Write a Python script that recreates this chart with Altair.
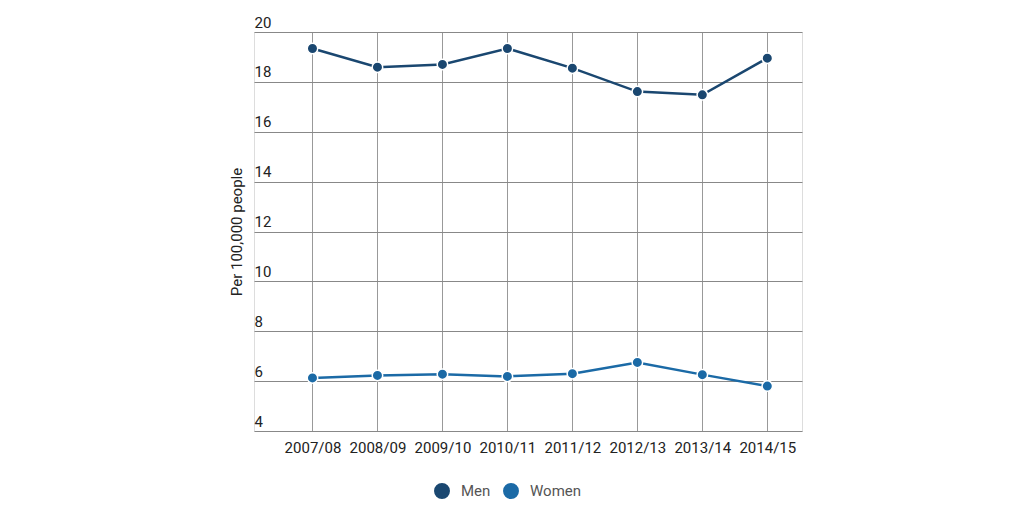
import altair as alt
import pandas as pd

years = ["2007/08", "2008/09", "2009/10", "2010/11", "2011/12", "2012/13", "2013/14", "2014/15"]
men = [19.34, 18.59, 18.70, 19.34, 18.55, 17.61, 17.48, 18.95]
women = [6.13, 6.23, 6.28, 6.19, 6.30, 6.75, 6.26, 5.80]
series = ["Men", "Women"]
colors = ["#1a4770", "#1b6aa6"]
y_ticks = [4, 6, 8, 10, 12, 14, 16, 18, 20]

rows = []
for i, yr in enumerate(years):
    rows.append({"idx": i, "year": yr, "group": "Men", "value": men[i]})
    rows.append({"idx": i, "year": yr, "group": "Women", "value": women[i]})
df = pd.DataFrame(rows)

FONT = "Roboto"
year_array = "[" + ",".join("'" + y + "'" for y in years) + "]"

x_enc = alt.X(
    "idx:Q",
    scale=alt.Scale(domain=[-0.9, len(years) - 1 + 0.534], nice=False, zero=False),
    axis=alt.Axis(
        title=None,
        values=list(range(len(years))),
        labelExpr=year_array + "[datum.value]",
        labelAngle=0,
        labelFont=FONT,
        labelFontSize=15,
        labelColor="#222222",
        labelPadding=9,
        labelFlush=False,
        labelOverlap=False,
        ticks=False,
        tickSize=0,
        domain=False,
        grid=True,
        gridColor="#999999",
        gridWidth=1,
    ),
)
y_enc = alt.Y(
    "value:Q",
    scale=alt.Scale(domain=[4, 20], nice=False, zero=False),
    axis=alt.Axis(
        title="Per 100,000 people",
        titleFont=FONT,
        titleFontSize=15,
        titleFontWeight="normal",
        titleColor="#222222",
        titlePadding=10,
        values=y_ticks,
        labelFont=FONT,
        labelFontSize=15,
        labelColor="#222222",
        labelAlign="left",
        labelBaseline="bottom",
        labelPadding=0,
        labelOffset=-2,
        ticks=False,
        tickSize=0,
        domain=False,
        grid=True,
        gridColor="#888888",
        gridWidth=1,
    ),
)
color_enc = alt.Color(
    "group:N",
    scale=alt.Scale(domain=series, range=colors),
    legend=alt.Legend(
        title=None,
        orient="none",
        legendX=180,
        legendY=451,
        direction="horizontal",
        symbolType="circle",
        symbolSize=254,
        symbolStrokeWidth=0,
        labelFont=FONT,
        labelFontSize=15,
        labelColor="#555555",
        labelOffset=11,
        columnPadding=12,
    ),
)

base = alt.Chart(df).encode(x=x_enc, y=y_enc, color=color_enc, detail="group:N")

lines = base.mark_line(strokeWidth=2.5)
points = base.mark_point(filled=True, size=110, stroke="white", strokeWidth=1.5, opacity=1, shape="circle")

chart = (
    alt.layer(lines, points)
    .properties(
        width=548,
        height=399,
        autosize=alt.AutoSizeParams(type="none"),
        padding={"left": 246, "top": 24, "right": 200, "bottom": 72},
    )
    .configure_view(strokeWidth=0, stroke="transparent")
    .configure(background="white")
)

chart.save("out.html", embed_options={"renderer": "svg", "actions": False})
